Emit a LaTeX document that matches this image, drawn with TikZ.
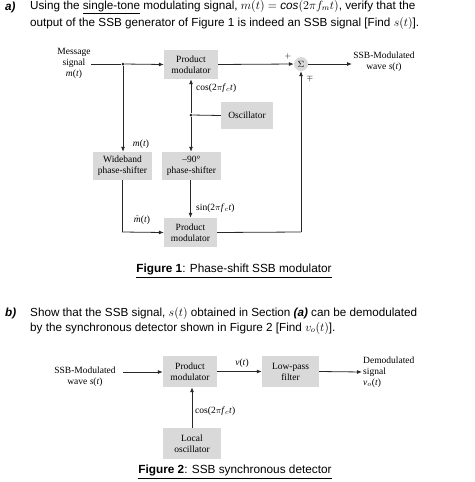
\documentclass[tikz,border=0pt]{standalone}
\usepackage{amsmath,amssymb}
\usepackage{fontspec}
\setmainfont{Liberation Sans}
\newfontfamily\diagfont{Liberation Serif}
\usetikzlibrary{arrows.meta,positioning}
\definecolor{grisBloque}{RGB}{217,217,217}
\definecolor{lineaBloque}{RGB}{40,40,40}
\newcommand{\dv}[1]{\textit{#1}}

\begin{document}
\begin{tikzpicture}[x=1pt,y=-1pt,
  bloque/.style={fill=grisBloque,draw=none,minimum height=29pt,inner sep=1pt,
    align=center,font=\diagfont\fontsize{9.5}{11}\selectfont},
  etiqueta/.style={inner sep=1pt,align=center,font=\diagfont\fontsize{9.5}{11}\selectfont},
  pregunta/.style={anchor=west,inner sep=0pt,font=\fontsize{11.7}{13}\selectfont},
  leyenda/.style={inner sep=0pt,font=\fontsize{11.8}{13}\selectfont},
  flecha/.style={draw=lineaBloque,line width=0.8pt,-{Latex[length=5pt,width=4pt]}},
  linea/.style={draw=lineaBloque,line width=0.8pt},
  punto/.style={circle,fill=lineaBloque,inner sep=0pt,minimum size=3pt}]
  \useasboundingbox (0,0) rectangle (474,482);
  % Enunciado (a)
  \node[pregunta] (letraA) at (5,7) {\textbf{\textit{a)}}};
  \node[pregunta] (textoA1) at (30,7) {Using the \underline{single-tone} modulating signal, $m(t)=\mathit{cos}(2\pi f_m t)$, verify that the};
  \node[pregunta] (textoA2) at (30,23) {output of the SSB generator of Figure 1 is indeed an SSB signal [Find $s(t)$].};
  % Figura 1: bloques
  \node[etiqueta] (mensaje) at (74,63) {Message\\signal\\\dv{m}(\dv{t})};
  \coordinate (mensajeSal) at (91,64);
  \node[punto] (nodo1) at (123,64) {};
  \node[bloque,minimum width=54pt] (prod1) at (191,64.5) {Product\\modulator};
  \node[circle,fill=grisBloque,minimum size=14pt,inner sep=0pt,font=\diagfont\small] (suma) at (301,64) {$\Sigma$};
  \node[etiqueta] (salida1) at (384,62) {SSB-Modulated\\wave \dv{s}(\dv{t})};
  \coordinate (salida1In) at (352,64);
  \node[bloque,minimum width=52pt,minimum height=27pt] (oscil) at (247,115.5) {Oscillator};
  \node[punto] (nodo2) at (191,115) {};
  \node[bloque,minimum width=59pt,minimum height=28pt] (hilbert) at (122.5,166) {Wideband\\phase-shifter};
  \node[bloque,minimum width=59pt,minimum height=28pt] (desfase) at (191.5,166) {\textendash90\textdegree\\phase-shifter};
  \node[bloque,minimum width=53pt] (prod2) at (190.5,232.5) {Product\\modulator};
  \coordinate (esquina1) at (122,232);
  \coordinate (esquina2) at (301,232);
  % Figura 1: conexiones
  \draw[linea] (mensajeSal) -- (nodo1);
  \draw[flecha] (nodo1) -- (prod1.west);
  \draw[flecha] (prod1.east) -- (suma.west);
  \draw[flecha] (suma.east) -- (salida1In);
  \draw[flecha] (nodo1) -- (nodo1 |- hilbert.north);
  \draw[linea] (oscil.west) -- (nodo2);
  \draw[flecha] (nodo2) -- (nodo2 |- prod1.south);
  \draw[flecha] (nodo2) -- (nodo2 |- desfase.north);
  \draw[linea] (hilbert.south -| esquina1) -- (esquina1);
  \draw[flecha] (esquina1) -- (prod2.west);
  \draw[flecha] (desfase.south -| prod2.north) -- (prod2.north);
  \draw[linea] (prod2.east) -- (esquina2);
  \draw[flecha] (esquina2) -- (suma.south);
  % Figura 1: etiquetas
  \node[etiqueta,font=\diagfont\footnotesize] (mas) at (288,56) {$+$};
  \node[etiqueta,font=\diagfont\footnotesize] (menosmas) at (310,78) {$\mp$};
  \node[etiqueta,anchor=west] (coseno1) at (195,88) {cos(2$\pi$\dv{f}$_c$\dv{t})};
  \node[etiqueta] (mt) at (141,144) {\dv{m}(\dv{t})};
  \node[etiqueta] (mhat) at (142,220) {$\hat{\text{\dv{m}}}$(\dv{t})};
  \node[etiqueta,anchor=west] (seno) at (195,208) {sin(2$\pi$\dv{f}$_c$\dv{t})};
  \node[leyenda] (leyenda1) at (234,271) {\underline{\textbf{Figure 1}: Phase-shift SSB modulator}};
  % Enunciado (b)
  \node[pregunta] (letraB) at (5,313) {\textbf{\textit{b)}}};
  \node[pregunta] (textoB1) at (30,313) {Show that the SSB signal, $s(t)$ obtained in Section \textbf{\textit{(a)}} can be demodulated};
  \node[pregunta] (textoB2) at (30,328) {by the synchronous detector shown in Figure 2 [Find $v_o(t)$].};
  % Figura 2
  \node[etiqueta] (entrada2) at (85,377) {SSB-Modulated\\wave \dv{s}(\dv{t})};
  \coordinate (entrada2Sal) at (123,372);
  \node[bloque,minimum width=54pt,minimum height=31pt] (prod3) at (190,371.5) {Product\\modulator};
  \node[bloque,minimum width=57pt,minimum height=31pt] (filtro) at (290.5,371.5) {Low-pass\\filter};
  \coordinate (salida2In) at (362,372);
  \node[etiqueta,anchor=west,align=left] (salida2) at (362,372) {Demodulated\\signal\\\dv{v}$_o$(\dv{t})};
  \node[bloque,minimum width=58pt,minimum height=31pt] (osclocal) at (192,443.5) {Local\\oscillator};
  \draw[flecha] (entrada2Sal) -- (entrada2Sal -| prod3.west);
  \draw[flecha] (prod3.east) -- (filtro.west);
  \draw[flecha] (filtro.east) -- (salida2In);
  \draw[flecha] (osclocal.north) -- (osclocal.north |- prod3.south);
  \node[etiqueta] (vt) at (242,363) {\dv{v}(\dv{t})};
  \node[etiqueta,anchor=west] (coseno2) at (194,411) {cos(2$\pi$\dv{f}$_c$\dv{t})};
  \node[leyenda] (leyenda2) at (235,472) {\underline{\textbf{Figure 2}: SSB synchronous detector}};
\end{tikzpicture}
\end{document}
